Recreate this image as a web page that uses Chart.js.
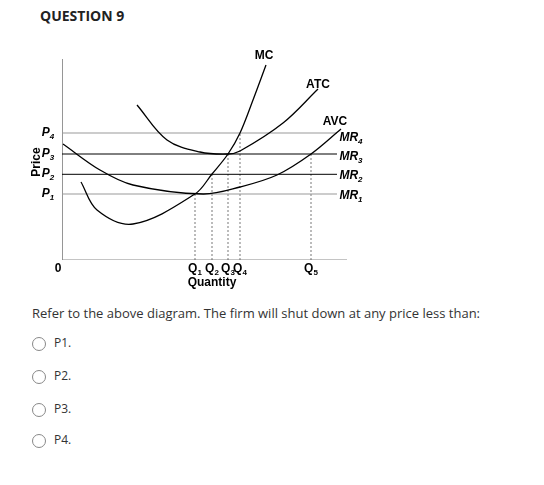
<!DOCTYPE html>
<html><head><meta charset="utf-8">
<script src="https://cdn.jsdelivr.net/npm/chart.js@4"></script>
<style>
body{margin:0;background:#fff;font-family:"Open Sans",sans-serif;color:#333;}
#wrap{position:absolute;left:0;top:0;width:544px;height:300px;}
.t{position:absolute;font-size:13px;}
.opt{position:absolute;left:32px;font-size:12px;}
.opt span{display:inline-block;width:12px;height:12px;border:1px solid #888;border-radius:50%;vertical-align:middle;margin-right:8px;}
</style></head><body>
<div class="t" style="left:40px;top:6px;font-weight:bold;font-size:14px;color:#222">QUESTION 9</div>
<div id="wrap"><canvas id="c" width="544" height="300"></canvas></div>
<div class="t" style="left:32px;top:304px;">Refer to the above diagram. The firm will shut down at any price less than:</div>
<div class="opt" style="top:334px"><span></span>P1.</div>
<div class="opt" style="top:367px"><span></span>P2.</div>
<div class="opt" style="top:400px"><span></span>P3.</div>
<div class="opt" style="top:431px"><span></span>P4.</div>
<script>
// price levels and quantities (chart units)
const priceLevels = [66, 85.7, 106, 127];
const quantities = [133, 150, 166, 178, 249];
const qHeights = [66, 85.7, 106, 127, 106];
const mcCurve = [[19,78],[35,50],[71,36],[133,66],[150,86],[166,106],[178,127],[191,160],[204,195]];
const avcCurve = [[1,116],[38,90],[71,75],[141,66],[178,73],[215,85],[249,106],[279,131]];
const atcCurve = [[75,155],[105,120],[138,108],[166,106],[178,109],[221,137],[256,171]];

const pts = a => a.map(p => ({x:p[0], y:p[1]}));
const ds = [];
const curve = a => ({data:pts(a), showLine:true, tension:0.35, borderColor:'#000', borderWidth:1.3, pointRadius:0});
ds.push(curve(mcCurve), curve(avcCurve), curve(atcCurve));
priceLevels.forEach((p,i) => ds.push({data:[{x:0,y:p},{x:275,y:p}], showLine:true, pointRadius:0,
  borderColor:(i==0||i==3)?'#999':'#000', borderWidth:1}));
quantities.forEach((q,i) => ds.push({data:[{x:q,y:0},{x:q,y:qHeights[i]}], showLine:true, pointRadius:0,
  borderColor:'#555', borderWidth:0.8, borderDash:[2,2]}));
ds.push({data:[{x:0,y:201},{x:0,y:0},{x:285,y:0}], showLine:true, pointRadius:0, borderColor:'#888', borderWidth:1});

// [text, sub, x, y, italic]
const labels = [
  ['MC','',202,204,false],['ATC','',256,175,false],['AVC','',273,138,false],
  ['MR','4',289,122,true],['MR','3',289,103,true],['MR','2',289,84,true],['MR','1',289,64,true],
  ['P','4',-14,127,true],['P','3',-14,106,true],['P','2',-14,86,true],['P','1',-14,66,true],
  ['0','',-4,-9,false],['Q','1',133,-9,false],['Q','2',150,-9,false],['Q','3',166,-9,false],
  ['Q','4',178,-9,false],['Q','5',249,-9,false],['Quantity','',150,-23,false]
];
const textPlugin = {id:'txt', afterDraw(ch){
  const c = ch.ctx, xs = ch.scales.x, ys = ch.scales.y;
  c.save(); c.fillStyle='#000'; c.textBaseline='middle';
  labels.forEach(([t,s,x,y,it]) => {
    const f = (it?'italic ':'')+'bold 12px "Liberation Sans"';
    const sf = (it?'italic ':'')+'bold 8px "Liberation Sans"';
    c.font = f;
    const w = c.measureText(t).width;
    c.font = sf;
    const sw = s ? c.measureText(s).width : 0;
    let px = xs.getPixelForValue(x) - (w+sw)/2, py = ys.getPixelForValue(y);
    c.font = f; c.textAlign='left'; c.fillText(t, px, py);
    if (s) { c.font = sf; c.fillText(s, px+w, py+4); }
  });
  c.translate(xs.getPixelForValue(-25), ys.getPixelForValue(98));
  c.rotate(-Math.PI/2); c.font='bold 12px "Liberation Sans"'; c.textAlign='center';
  c.fillText('Price', 0, 0);
  c.restore();
}};

new Chart(document.getElementById('c'), {
  type:'scatter', data:{datasets:ds}, plugins:[textPlugin],
  options:{responsive:false, animation:false, events:[],
    layout:{padding:{left:62,right:197,top:59,bottom:40}},
    plugins:{legend:{display:false}, tooltip:{enabled:false}},
    scales:{x:{type:'linear',min:0,max:285,display:false}, y:{type:'linear',min:0,max:201,display:false}}}
});
</script></body></html>
